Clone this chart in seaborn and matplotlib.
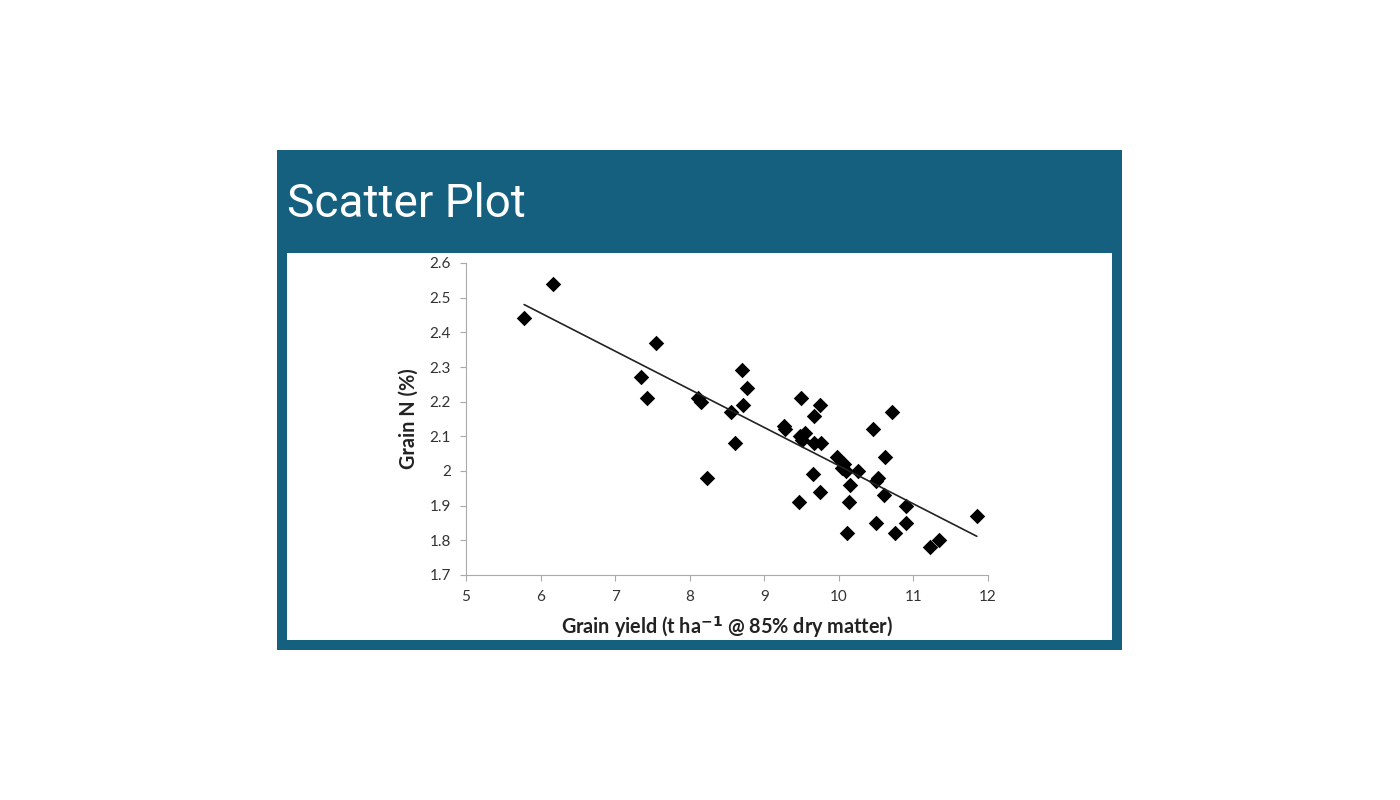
import seaborn as sns
import pandas as pd
import matplotlib.pyplot as plt
from matplotlib.patches import Rectangle

# values
grain_yield = [5.78, 6.17, 7.55, 7.35, 7.43, 8.11, 8.15, 8.23, 8.55, 8.61,
               8.70, 8.71, 8.77, 9.26, 9.28, 9.49, 9.48, 9.54, 9.46, 9.66,
               9.75, 9.67, 9.76, 9.65, 9.75, 9.97, 10.04, 10.09, 10.15, 10.13,
               10.11, 10.25, 10.46, 10.50, 10.52, 10.50, 10.62, 10.60, 10.71, 10.75,
               10.90, 10.90, 11.22, 11.34, 11.85, 9.51, 10.07]
grain_n = [2.44, 2.54, 2.37, 2.27, 2.21, 2.21, 2.20, 1.98, 2.17, 2.08,
           2.29, 2.19, 2.24, 2.13, 2.12, 2.21, 2.10, 2.11, 1.91, 2.16,
           2.19, 2.08, 2.08, 1.99, 1.94, 2.04, 2.01, 2.00, 1.96, 1.91,
           1.82, 2.00, 2.12, 1.97, 1.98, 1.85, 2.04, 1.93, 2.17, 1.82,
           1.90, 1.85, 1.78, 1.80, 1.87, 2.09, 2.02]
xticks = [5, 6, 7, 8, 9, 10, 11, 12]
yticks = [1.7, 1.8, 1.9, 2.0, 2.1, 2.2, 2.3, 2.4, 2.5, 2.6]
ytick_labels = ["1.7", "1.8", "1.9", "2", "2.1", "2.2", "2.3", "2.4", "2.5", "2.6"]

df = pd.DataFrame({"yield": grain_yield, "n": grain_n})

sns.set_style("white")
plt.rcParams["font.family"] = ["Lato", "DejaVu Sans"]

W, H = 1400, 800
fig = plt.figure(figsize=(14, 8), dpi=100)

# teal frame and white inner panel (pixel coords -> figure fraction)
def box(x0, y0, x1, y1, color):
    fig.patches.append(Rectangle((x0 / W, 1 - y1 / H), (x1 - x0) / W, (y1 - y0) / H,
                                 transform=fig.transFigure, facecolor=color,
                                 edgecolor="none", zorder=-5))

box(277, 150, 1122, 650, "#155f7f")
box(287, 253, 1112, 640, "white")
fig.text(287 / W, 1 - 204 / H, "Scatter Plot", color="white", fontsize=33,
         va="center", ha="left", family=["Roboto", "DejaVu Sans"])

ax = fig.add_axes([466 / W, 1 - 575 / H, (988 - 466) / W, (575 - 263) / H])
ax.set_zorder(3)
ax.set_facecolor("none")
sns.regplot(data=df, x="yield", y="n", ax=ax, ci=None,
            marker="D", scatter_kws={"s": 62, "color": "black", "linewidths": 0, "alpha": 1},
            line_kws={"color": "#222222", "linewidth": 1.2})

ax.set_xlim(5, 12)
ax.set_ylim(1.7, 2.6)
ax.set_xticks(xticks)
ax.set_yticks(yticks)
ax.set_yticklabels(ytick_labels)
ax.tick_params(axis="both", which="major", length=4, width=0.8, color="#aaaaaa",
               labelsize=11, labelcolor="#333333", pad=7, direction="out",
               left=True, bottom=True)
for s in ["top", "right"]:
    ax.spines[s].set_visible(False)
for s in ["left", "bottom"]:
    ax.spines[s].set_color("#aaaaaa")
    ax.spines[s].set_linewidth(0.8)

ax.set_xlabel("Grain yield (t ha$^{\\mathbf{-1}}$ @ 85% dry matter)", fontsize=14.3,
              fontweight="bold", color="#222222", labelpad=7)
ax.set_ylabel("Grain N (%)", fontsize=14.3, fontweight="bold", color="#222222", labelpad=8)

fig.savefig("out.png", dpi=100, facecolor="white")
